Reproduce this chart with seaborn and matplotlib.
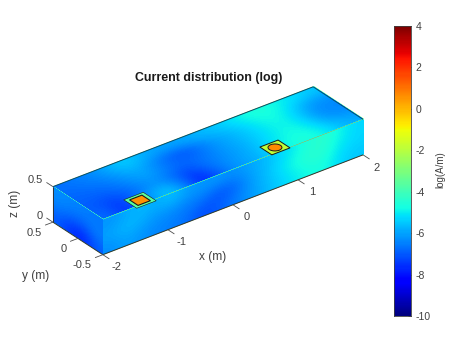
import numpy as np
import pandas as pd
import seaborn as sns
import matplotlib.pyplot as plt
from matplotlib.colors import Normalize
from matplotlib.patches import Circle, Polygon, Rectangle
from matplotlib.transforms import Affine2D

# color limits and ticks
VMIN, VMAX = -10, 4
cbar_ticks = [4, 2, 0, -2, -4, -6, -8, -10]
x_ticks = [-2, -1, 0, 1, 2]
y_ticks = [-0.5, 0, 0.5]
z_ticks = [0, 0.5]

top_values = [
    [-6.8, -7.6, -6.9, -5.9, -5.5, -6.5, -7.8, -7.0, -6.3, -6.0, -5.7, -5.1, -4.7, -4.6, -4.9, -5.6, -5.9],
    [-7.0, -7.3, -7.0, -6.5, -6.2, -6.7, -7.3, -6.7, -6.4, -6.1, -5.8, -5.3, -4.9, -4.7, -5.2, -6.1, -6.3],
    [-6.9, -6.9, -6.7, -6.3, -6.0, -6.4, -6.8, -6.8, -6.5, -6.1, -5.8, -5.4, -5.0, -4.8, -5.4, -6.3, -6.4],
    [-6.8, -6.7, -6.5, -6.1, -5.8, -6.3, -6.9, -7.1, -6.6, -6.1, -5.8, -5.4, -4.9, -4.7, -5.2, -6.0, -6.2],
    [-6.7, -6.5, -6.3, -5.8, -5.4, -5.8, -6.0, -6.0, -5.9, -5.7, -5.5, -5.1, -4.7, -4.6, -4.9, -5.2, -5.5],
]
front_values = [
    [-6.3, -6.0, -6.2, -6.4, -6.5, -6.7, -7.2, -7.0, -6.6, -6.2, -5.8, -5.4, -5.0, -4.7, -4.7, -5.3, -5.5],
    [-6.0, -5.7, -5.9, -6.2, -6.3, -6.5, -6.6, -7.1, -6.9, -6.2, -5.7, -5.2, -4.7, -4.4, -4.5, -5.1, -5.3],
    [-6.2, -5.9, -5.7, -5.9, -5.6, -6.1, -6.2, -6.2, -6.3, -6.0, -5.7, -5.3, -4.9, -4.5, -4.4, -4.9, -5.3],
]
# columns go from y=-0.5 to y=0.5
left_values = [
    [-6.9, -7.7, -7.6, -7.0],
    [-6.5, -6.9, -6.8, -6.5],
    [-6.6, -6.5, -6.4, -6.3],
]

# the two patches on the top face: center x, center y, half x, half y, value
patch_a = (-1.36, -0.41, 0.15, 0.13, -3.6)
patch_a_inner = (-1.36, -0.41, 0.095, 0.085, 0.6)
patch_b = (0.73, -0.39, 0.14, 0.12, -1.9)
patch_b_circle = (0.73, -0.39, 0.085, 0.7)

# matlab default view, az -37.5 el 30
AZ = np.radians(37.5)
EL = np.radians(30)
EX = np.array([np.cos(AZ), np.sin(AZ) * np.sin(EL)])
EY = np.array([-np.sin(AZ), np.cos(AZ) * np.sin(EL)])
EZ = np.array([0, np.cos(EL)])


def project(x, y, z):
    return x * EX + y * EY + z * EZ


def face_transform(origin, e_u, e_v):
    return Affine2D(np.array([[e_u[0], e_v[0], origin[0]],
                              [e_u[1], e_v[1], origin[1]],
                              [0, 0, 1]]))


def edge(ax, a, b, lw=0.7, color='0.2'):
    p, q = project(*a), project(*b)
    ax.plot([p[0], q[0]], [p[1], q[1]], color=color, lw=lw, solid_capstyle='butt', zorder=5)


def main():
    sns.set_theme(style='white')
    plt.rcParams['font.family'] = ['Liberation Sans', 'DejaVu Sans']

    W, H = 474, 355
    fig = plt.figure(figsize=(W / 100, H / 100), dpi=100)
    ax = fig.add_axes([0, 0, 1, 1])
    ax.axis('off')

    norm = Normalize(VMIN, VMAX)
    cmap = plt.get_cmap('jet')
    im_kw = dict(cmap=cmap, norm=norm, origin='lower', aspect='auto',
                 interpolation='bicubic', interpolation_stage='data')

    # solid box under the images so their soft borders do not show white seams
    outline = [project(*c) for c in [(-2, 0.5, 0.5), (2, 0.5, 0.5), (2, -0.5, 0.5), (2, -0.5, 0),
                                     (-2, -0.5, 0), (-2, 0.5, 0)]]
    ax.add_patch(Polygon(outline, fc=cmap(norm(-6.3)), ec='none', zorder=-1))

    top_tf = face_transform(project(0, 0, 0.5), EX, EY)
    front_tf = face_transform(project(0, -0.5, 0), EX, EZ)
    left_tf = face_transform(project(-2, 0, 0), EY, EZ)
    for vals, ext, tf in [(top_values, (-2, 2, -0.5, 0.5), top_tf),
                          (front_values, (-2, 2, 0, 0.5), front_tf),
                          (left_values, (-0.5, 0.5, 0, 0.5), left_tf)]:
        ax.imshow(np.array(vals), extent=ext, transform=tf + ax.transData, **im_kw)
    # 82 px per unit, box center on the floor sits at pixel (208, 188.5)
    ax.set_xlim(-208 / 82, (W - 208) / 82)
    ax.set_ylim(-(H - 188.5) / 82, 188.5 / 82)

    # patches
    for (cx, cy, hx, hy, val), lw in [(patch_a, 0.4), (patch_a_inner, 0.8), (patch_b, 0.7)]:
        ax.add_patch(Rectangle((cx - hx, cy - hy), 2 * hx, 2 * hy, fc=cmap(norm(val)), ec='k',
                               lw=lw, transform=top_tf + ax.transData, zorder=4))
    cx, cy, r, val = patch_b_circle
    ax.add_patch(Circle((cx, cy), r, fc=cmap(norm(val)), ec='k', lw=0.7,
                        transform=top_tf + ax.transData, zorder=4))

    # box edges
    edge(ax, (-2, -0.5, 0), (2, -0.5, 0))
    edge(ax, (-2, -0.5, 0), (-2, 0.5, 0))
    edge(ax, (-2, 0.5, 0), (-2, 0.5, 0.5))
    edge(ax, (-2, 0.5, 0.5), (2, 0.5, 0.5), color='#0a4a6a')
    edge(ax, (2, 0.5, 0.5), (2, -0.5, 0.5), color='#0a4a6a')

    # ticks and tick labels
    txt = dict(color='0.25', fontsize=8)
    for x in x_ticks:
        edge(ax, (x, -0.5, 0), (x, -0.63, 0), lw=0.6, color='0.3')
        p = project(x, -0.78, -0.05)
        ax.text(p[0], p[1], f'{x:g}', ha='center', va='center', **txt)
    for y in y_ticks:
        edge(ax, (-2, y, 0), (-2.12, y, 0), lw=0.6, color='0.3')
        p = project(-2.17, y, -0.09)
        ax.text(p[0], p[1], f'{y:g}', ha='right', va='center', **txt)
    for z in z_ticks:
        edge(ax, (-2, 0.5, z), (-2, 0.63, z), lw=0.6, color='0.3')
        p = project(-2, 0.7, z)
        ax.text(p[0], p[1], f'{z:g}', ha='right', va='center', **txt)

    lab = dict(color='0.25', fontsize=8.6, ha='center', va='center')
    p = project(-0.976, -1.368, 0)
    ax.text(p[0], p[1], 'x (m)', **lab)
    p = project(-2.96, -0.409, 0)
    ax.text(p[0], p[1], 'y (m)', **lab)
    p = project(-2.36, 0.798, 0.25)
    ax.text(p[0], p[1], 'z (m)', rotation=90, **lab)

    fig.text(208.5 / W, 1 - 78.5 / H, 'Current distribution (log)', fontsize=8.9, fontweight='bold',
             color='k', ha='center', va='center')

    # colorbar as a one column heatmap
    levels = np.arange(VMAX, VMIN - 0.05, -0.05)
    cbar_df = pd.DataFrame({'log': levels}, index=levels)
    cax = fig.add_axes([394 / W, (H - 316) / H, 17 / W, 290 / H])
    sns.heatmap(cbar_df, ax=cax, cmap='jet', vmin=VMIN, vmax=VMAX, cbar=False,
                xticklabels=False, yticklabels=False)
    n = len(levels)
    cax.set_ylabel('')
    cax.yaxis.tick_right()
    cax.set_yticks([(VMAX - t) / (VMAX - VMIN) * n for t in cbar_ticks])
    cax.set_yticklabels([f'{t}' for t in cbar_ticks], fontsize=7.5, color='0.25')
    cax.tick_params(axis='y', direction='in', length=2, width=0.5, color='0.2', pad=3.5, left=False, right=True)
    for s in cax.spines.values():
        s.set_visible(True)
        s.set_color('0.25')
        s.set_linewidth(0.6)
    fig.text(440 / W, 1 - 170 / H, 'log(A/m)', rotation=90, fontsize=7, color='0.25', ha='center', va='center')

    fig.savefig('out.png', dpi=100)


if __name__ == '__main__':
    main()
